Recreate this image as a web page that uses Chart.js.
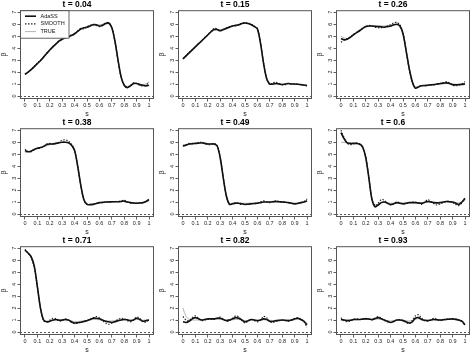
<!DOCTYPE html>
<html><head><meta charset="utf-8">
<script src="https://cdn.jsdelivr.net/npm/chart.js@4.4.1/dist/chart.umd.min.js"></script>
<style>
html,body{margin:0;padding:0;background:#fff;width:474px;height:355px;overflow:hidden}
canvas{position:absolute}
</style></head><body>
<script>
const sValues = [0,0.025,0.05,0.075,0.1,0.125,0.15,0.175,0.2,0.225,0.25,0.275,0.3,0.325,0.35,0.375,0.4,0.425,0.45,0.475,0.5,0.525,0.55,0.575,0.6,0.625,0.65,0.675,0.7,0.725,0.75,0.775,0.8,0.825,0.85,0.875,0.9,0.925,0.95,0.975,1];
const xTickValues = [0,0.1,0.2,0.3,0.4,0.5,0.6,0.7,0.8,0.9,1];
const xTickLabels = ['0','0.1','0.2','0.3','0.4','0.5','0.6','0.7','0.8','0.9','1'];
const yTickValues = [0,1,2,3,4,5,6,7];
const yTickLabels = ['0','1','2','3','4','5','6','7'];
const panelTitles = ['t = 0.04','t = 0.15','t = 0.26','t = 0.38','t = 0.49','t = 0.6','t = 0.71','t = 0.82','t = 0.93'];
const seriesNames = ['AdaSS','SMOOTH','TRUE'];

const adaSS1 = [1.80,2.00,2.20,2.45,2.70,2.95,3.25,3.55,3.85,4.10,4.35,4.60,4.75,4.85,4.95,5.05,5.20,5.40,5.60,5.70,5.75,5.85,5.95,5.95,5.85,5.90,6.05,6.10,5.70,4.60,3.00,1.60,0.90,0.70,0.85,1.05,1.05,0.95,0.90,0.85,0.90];
const smooth1 = [1.85,2.00,2.25,2.45,2.75,3.00,3.25,3.60,3.85,4.15,4.35,4.55,4.80,4.85,5.00,5.10,5.15,5.45,5.65,5.60,5.80,5.90,6.00,5.90,5.80,5.95,6.10,6.15,5.75,4.50,2.95,1.55,0.90,0.75,0.85,1.10,1.05,0.90,0.85,0.90,1.15];
const trueBeta1 = [1.80,2.02,2.25,2.50,2.75,3.00,3.28,3.55,3.82,4.08,4.32,4.55,4.72,4.85,4.98,5.10,5.25,5.42,5.58,5.70,5.80,5.88,5.92,5.95,5.95,5.98,6.02,6.05,5.80,4.70,3.00,1.50,0.90,0.80,0.90,1.00,1.05,1.00,0.95,1.00,1.20];

const adaSS2 = [3.10,3.35,3.60,3.85,4.10,4.35,4.60,4.85,5.10,5.35,5.55,5.55,5.45,5.55,5.65,5.75,5.85,5.90,5.95,6.05,6.10,6.05,5.95,5.80,5.60,4.40,2.70,1.45,1.00,1.00,1.05,1.00,0.95,1.00,1.05,1.00,1.00,0.98,0.95,0.92,0.87];
const smooth2 = [3.10,3.35,3.65,3.85,4.10,4.40,4.60,4.90,5.10,5.40,5.65,5.60,5.45,5.50,5.70,5.80,5.85,5.85,5.95,6.10,6.15,6.10,6.00,5.85,5.65,4.50,2.75,1.40,0.95,1.10,1.15,1.05,0.95,0.95,1.05,1.00,1.00,1.00,0.95,0.90,0.85];
const trueBeta2 = [3.15,3.40,3.65,3.90,4.15,4.40,4.65,4.90,5.15,5.35,5.50,5.55,5.55,5.60,5.70,5.78,5.85,5.92,5.98,6.04,6.08,6.05,5.98,5.85,5.65,4.50,2.80,1.50,1.00,0.98,1.00,1.00,0.98,1.00,1.00,1.00,0.98,0.97,0.95,0.92,0.88];

const adaSS3 = [4.80,4.70,4.75,4.90,5.10,5.30,5.45,5.65,5.80,5.85,5.85,5.82,5.80,5.78,5.75,5.80,5.85,5.95,6.00,5.85,5.20,3.80,2.30,1.20,0.65,0.75,0.85,0.88,0.90,0.93,0.95,1.00,1.05,1.08,1.10,1.05,0.95,0.93,0.95,0.97,1.00];
const smooth3 = [4.50,4.65,4.80,4.95,5.15,5.30,5.50,5.65,5.80,5.90,5.85,5.75,5.70,5.70,5.75,5.85,5.95,6.10,6.15,5.95,5.25,3.75,2.25,1.15,0.70,0.80,0.90,0.85,0.88,0.95,0.95,1.00,1.05,1.10,1.20,1.10,0.90,0.85,0.90,1.00,1.20];
const trueBeta3 = [5.00,4.85,4.80,4.90,5.05,5.25,5.45,5.62,5.75,5.82,5.85,5.85,5.85,5.85,5.85,5.88,5.92,5.95,5.95,5.85,5.30,3.90,2.35,1.20,0.75,0.80,0.85,0.88,0.90,0.93,0.95,0.98,1.00,1.02,1.05,1.05,1.00,0.98,0.98,1.00,1.05];

const adaSS4 = [5.30,5.20,5.25,5.40,5.50,5.55,5.65,5.80,5.85,5.85,5.90,5.95,6.00,6.00,5.95,5.75,5.30,4.00,2.40,1.20,0.80,0.78,0.80,0.88,0.95,0.97,1.00,1.00,1.02,1.03,1.03,1.05,1.08,1.00,0.95,0.92,0.90,0.92,0.95,1.05,1.20];
const smooth4 = [5.40,5.25,5.20,5.35,5.50,5.50,5.65,5.85,5.90,5.85,5.90,6.00,6.15,6.20,6.10,5.85,5.35,3.95,2.35,1.15,0.80,0.80,0.82,0.90,0.95,0.95,1.00,1.02,1.00,1.05,1.05,1.10,1.15,1.00,0.90,0.90,0.90,0.95,0.95,1.05,1.25];
const trueBeta4 = [5.10,5.20,5.30,5.40,5.48,5.55,5.62,5.70,5.78,5.85,5.90,5.95,5.98,6.00,5.98,5.80,5.35,4.05,2.45,1.25,0.85,0.82,0.85,0.90,0.95,0.98,1.00,1.00,1.00,1.02,1.02,1.03,1.05,1.00,0.97,0.95,0.93,0.93,0.95,1.02,1.10];

const adaSS5 = [5.70,5.75,5.85,5.88,5.90,5.92,5.95,5.90,5.85,5.85,5.85,5.70,4.70,3.00,1.50,0.80,0.85,0.90,0.90,0.85,0.80,0.82,0.85,0.88,0.90,0.95,1.00,1.00,1.00,1.02,1.05,1.03,1.00,0.98,0.95,0.90,0.85,0.88,0.95,1.00,1.10];
const smooth5 = [5.65,5.80,5.90,5.85,5.90,5.95,6.00,5.90,5.80,5.80,5.90,5.75,4.75,3.05,1.45,0.80,0.90,0.95,0.85,0.80,0.80,0.85,0.90,0.85,0.90,1.00,1.10,1.00,0.95,1.05,1.10,1.05,1.00,1.00,0.95,0.88,0.85,0.90,0.95,1.05,1.25];
const trueBeta5 = [5.75,5.80,5.85,5.88,5.90,5.92,5.92,5.90,5.88,5.86,5.84,5.70,4.80,3.10,1.55,0.90,0.90,0.90,0.90,0.90,0.90,0.90,0.90,0.92,0.95,0.97,1.00,1.00,1.00,1.00,1.00,1.00,1.00,0.98,0.96,0.94,0.92,0.93,0.95,1.00,1.05];

const adaSS6 = [6.80,6.30,5.95,5.90,5.90,5.90,5.85,5.60,4.70,3.00,1.20,0.60,0.75,0.95,1.00,0.90,0.80,0.85,0.95,0.90,0.85,0.90,0.95,0.95,0.95,0.92,0.90,0.98,1.05,1.00,0.95,0.93,0.95,1.00,1.05,1.02,1.00,0.90,0.80,1.00,1.30];
const smooth6 = [7.00,6.40,5.90,5.80,5.85,5.95,5.80,5.55,4.75,3.05,1.25,0.70,0.90,1.20,1.15,0.90,0.75,0.85,1.00,0.95,0.85,0.85,0.95,1.00,1.00,0.90,0.80,1.00,1.20,1.05,0.85,0.75,0.85,0.95,1.05,1.05,0.95,0.80,0.70,0.95,1.40];
const trueBeta6 = [6.00,5.98,5.95,5.92,5.90,5.88,5.85,5.65,4.80,3.10,1.30,0.75,0.85,0.95,1.00,0.95,0.90,0.90,0.92,0.92,0.92,0.93,0.95,0.95,0.95,0.95,0.95,0.97,1.00,1.00,0.98,0.97,0.97,1.00,1.02,1.02,1.00,0.95,0.92,1.00,1.15];

const adaSS7 = [6.85,6.60,6.30,5.50,3.80,2.00,1.00,0.85,0.90,1.00,1.05,0.98,1.00,1.05,1.00,0.85,0.75,0.78,0.82,0.88,0.95,1.05,1.15,1.15,1.10,1.00,0.90,0.85,0.80,0.85,0.95,1.00,1.05,1.02,0.95,1.00,1.15,1.05,0.90,0.95,1.00];
const smooth7 = [6.90,6.60,6.20,5.40,3.75,1.95,0.95,0.85,1.00,1.15,1.10,0.90,0.95,1.10,1.00,0.80,0.70,0.75,0.85,0.90,0.95,1.05,1.20,1.30,1.20,0.95,0.75,0.65,0.75,0.90,1.05,1.15,1.10,0.95,0.85,1.00,1.25,1.15,0.85,0.85,1.00];
const trueBeta7 = [6.80,6.60,6.20,5.45,3.85,2.05,1.05,0.90,0.92,0.95,1.00,1.00,1.00,1.00,0.98,0.92,0.88,0.88,0.90,0.92,0.95,1.00,1.05,1.05,1.02,0.98,0.95,0.92,0.92,0.95,0.98,1.00,1.02,1.00,0.98,1.00,1.05,1.02,0.98,0.98,1.00];

const adaSS8 = [0.85,0.80,0.90,1.10,1.20,1.10,1.00,1.05,1.10,1.10,1.10,1.15,1.15,1.05,0.95,1.00,1.10,1.20,1.15,1.00,0.85,0.95,1.05,1.00,0.95,1.00,1.10,1.05,0.90,0.88,0.95,0.98,1.00,0.98,0.95,1.00,1.10,1.15,1.05,0.90,0.60];
const smooth8 = [1.30,1.00,0.95,1.20,1.35,1.15,0.95,1.00,1.05,1.10,1.05,1.15,1.25,1.05,0.90,0.95,1.15,1.35,1.25,0.95,0.75,0.90,1.05,0.95,0.85,1.00,1.30,1.20,0.85,0.80,0.90,0.95,1.00,0.95,0.90,1.00,1.10,1.20,1.05,0.85,0.40];
const trueBeta8 = [2.00,1.30,1.05,1.00,1.00,1.00,1.00,1.02,1.05,1.05,1.05,1.05,1.05,1.03,1.00,1.00,1.02,1.05,1.05,1.00,0.95,0.95,1.00,1.00,0.98,1.00,1.02,1.02,0.98,0.95,0.95,0.97,1.00,1.00,1.00,1.00,1.02,1.05,1.02,0.95,0.70];

const adaSS9 = [1.05,1.00,0.95,0.98,1.05,1.05,1.05,1.08,1.10,1.08,1.05,1.12,1.20,1.10,1.00,0.90,0.80,0.88,1.00,1.00,0.95,0.85,0.75,0.85,1.15,1.20,1.05,0.98,0.95,1.00,1.05,1.02,1.00,1.02,1.05,1.08,1.10,1.05,1.00,0.90,0.60];
const smooth9 = [1.20,0.95,0.85,0.90,1.05,1.10,1.05,1.10,1.15,1.10,1.00,1.15,1.30,1.15,0.95,0.85,0.80,0.90,1.00,1.05,0.95,0.80,0.70,0.95,1.35,1.45,1.15,0.95,0.90,1.00,1.15,1.05,0.95,1.05,1.10,1.05,1.10,1.10,1.00,0.85,0.55];
const trueBeta9 = [1.00,1.00,1.00,1.00,1.02,1.03,1.04,1.05,1.05,1.05,1.05,1.06,1.08,1.05,1.00,0.95,0.92,0.95,0.98,1.00,0.98,0.95,0.92,0.98,1.08,1.10,1.05,1.00,0.98,1.00,1.02,1.02,1.00,1.02,1.03,1.05,1.05,1.05,1.00,0.92,0.70];

const panels = [
  [adaSS1,smooth1,trueBeta1],[adaSS2,smooth2,trueBeta2],[adaSS3,smooth3,trueBeta3],
  [adaSS4,smooth4,trueBeta4],[adaSS5,smooth5,trueBeta5],[adaSS6,smooth6,trueBeta6],
  [adaSS7,smooth7,trueBeta7],[adaSS8,smooth8,trueBeta8],[adaSS9,smooth9,trueBeta9]
];
panels.forEach((p,i)=>p.forEach((a,j)=>{ if(a.length!==sValues.length) throw new Error('panel '+(i+1)+' series '+j+' has '+a.length); }));

const FONT = "'Liberation Sans', Arial, sans-serif";
const styles = [
  {borderColor:'#111', borderWidth:1.6, borderDash:[]},
  {borderColor:'#222', borderWidth:1.1, borderDash:[1.5,1.5]},
  {borderColor:'#aaa', borderWidth:0.9, borderDash:[]}
];

const frame = {
  id:'frame',
  beforeDatasetsDraw(chart){
    const {ctx, chartArea:a, scales} = chart;
    const y0 = Math.round(scales.y.getPixelForValue(0)) + 0.5;
    ctx.save(); ctx.strokeStyle='#444'; ctx.lineWidth=0.9; ctx.setLineDash([2,2]);
    ctx.beginPath(); ctx.moveTo(a.left, y0); ctx.lineTo(a.right, y0); ctx.stroke();
    ctx.restore();
  },
  afterDraw(chart){
    const {ctx, chartArea:a} = chart;
    ctx.save(); ctx.strokeStyle='#555'; ctx.lineWidth=1;
    ctx.strokeRect(a.left+0.5, a.top+0.5, a.right-a.left-1, a.bottom-a.top-1);
    if (chart.options.plugins.innerLegend) {
      const lx = a.left, ly = a.top;
      ctx.fillStyle='#fff';
      ctx.fillRect(lx+1, ly+1, 48, 27);
      ctx.strokeStyle='#555'; ctx.lineWidth=0.9;
      ctx.strokeRect(lx+0.5, ly+0.5, 48.5, 27.5);
      ctx.font = '5.5px ' + FONT; ctx.textBaseline='middle'; ctx.fillStyle='#111';
      chart.data.datasets.forEach((d,k)=>{
        const yy = ly + 6 + k*7.7;
        ctx.strokeStyle = d.borderColor; ctx.lineWidth = d.borderWidth; ctx.setLineDash(d.borderDash);
        ctx.beginPath(); ctx.moveTo(lx+5, yy); ctx.lineTo(lx+16, yy); ctx.stroke();
        ctx.setLineDash([]);
        ctx.fillText(d.label, lx+20.5, yy);
      });
    }
    ctx.restore();
  }
};

panels.forEach((series, idx) => {
  const col = idx % 3, row = Math.floor(idx/3);
  const cv = document.createElement('canvas');
  cv.width = 158; cv.height = 118;
  cv.style.left = (col*158) + 'px'; cv.style.top = (row*118) + 'px';
  document.body.appendChild(cv);
  new Chart(cv, {
    type:'line',
    data:{
      datasets: series.map((vals,j)=>Object.assign({
        label: seriesNames[j],
        data: sValues.map((s,k)=>({x:s, y:vals[k]})),
        pointRadius:0, tension:0.3, fill:false
      }, styles[j]))
    },
    options:{
      responsive:false, animation:false, devicePixelRatio:1,
      layout:{padding:{left:0,right:4,top:0,bottom:0}},
      plugins:{
        legend:{display:false}, tooltip:{enabled:false},
        innerLegend: idx===0,
        title:{display:true, text:panelTitles[idx], color:'#000',
          font:{family:FONT, size:8.5, weight:'bold', lineHeight:1.2}, padding:{top:0,bottom:0}}
      },
      scales:{
        x:{type:'linear', min:-0.04, max:1.04,
          afterBuildTicks(s){ s.ticks = xTickValues.map(v=>({value:v})); },
          afterFit(s){ s.height = 19; },
          grid:{display:true, drawOnChartArea:false, drawTicks:true, tickLength:2.5, color:'#333', lineWidth:0.8},
          border:{display:false},
          ticks:{autoSkip:false, maxRotation:0, minRotation:0, padding:1, color:'#222',
            font:{family:FONT, size:5.5}, callback:(v,i)=>xTickLabels[i]},
          title:{display:true, text:'s', color:'#222', font:{family:FONT, size:7}, padding:{top:0,bottom:0}}
        },
        y:{type:'linear', min:-0.25, max:7.17,
          afterBuildTicks(s){ s.ticks = yTickValues.map(v=>({value:v})); },
          afterFit(s){ s.width = 20; },
          grid:{display:true, drawOnChartArea:false, drawTicks:true, tickLength:2.5, color:'#333', lineWidth:0.8},
          border:{display:false},
          ticks:{autoSkip:false, minRotation:90, maxRotation:90, crossAlign:'center', padding:1.5, color:'#222',
            font:{family:FONT, size:5.5}, callback:(v,i)=>yTickLabels[i]},
          title:{display:true, text:'β', color:'#222', font:{family:FONT, size:7}, padding:{top:0,bottom:0}}
        }
      }
    },
    plugins:[frame]
  });
});
</script>
</body></html>
